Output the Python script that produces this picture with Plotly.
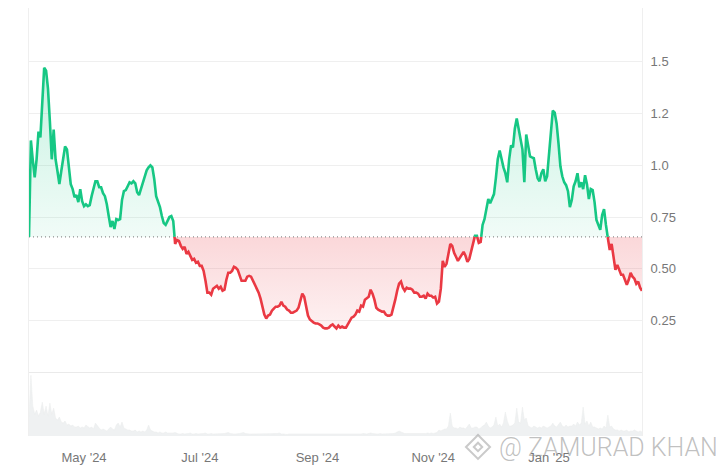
import numpy as np
import pandas as pd
import plotly.graph_objects as go

# ---------------- data ----------------
start_date = "2024-04-02"

prices = [
    0.654, 1.120, 1.024, 0.942, 1.029, 1.163, 1.135, 1.293, 1.471, 1.457,
    1.370, 1.212, 1.029, 1.173, 1.029, 0.971, 0.909, 0.971, 1.043, 1.091,
    1.077, 0.976, 0.909, 0.885, 0.846, 0.856, 0.822, 0.885, 0.827, 0.803,
    0.812, 0.803, 0.808, 0.851, 0.894, 0.923, 0.923, 0.894, 0.894, 0.865,
    0.851, 0.812, 0.755, 0.702, 0.731, 0.692, 0.740, 0.736, 0.740, 0.832,
    0.875, 0.880, 0.899, 0.918, 0.913, 0.923, 0.913, 0.870, 0.856, 0.889,
    0.909, 0.942, 0.976, 0.990, 1.000, 0.990, 0.933, 0.851, 0.827, 0.798,
    0.755, 0.721, 0.712, 0.736, 0.750, 0.755, 0.731, 0.620, 0.639, 0.635,
    0.611, 0.596, 0.606, 0.572, 0.582, 0.563, 0.543, 0.548, 0.529, 0.534,
    0.514, 0.514, 0.490, 0.442, 0.385, 0.385, 0.375, 0.404, 0.413, 0.418,
    0.404, 0.413, 0.394, 0.399, 0.447, 0.481, 0.481, 0.490, 0.510, 0.505,
    0.495, 0.471, 0.442, 0.442, 0.442, 0.462, 0.466, 0.462, 0.442, 0.423,
    0.409, 0.385, 0.356, 0.322, 0.279, 0.260, 0.274, 0.279, 0.298, 0.308,
    0.317, 0.317, 0.322, 0.341, 0.322, 0.317, 0.303, 0.298, 0.288, 0.288,
    0.293, 0.298, 0.312, 0.351, 0.380, 0.365, 0.312, 0.274, 0.255, 0.245,
    0.240, 0.236, 0.236, 0.231, 0.226, 0.216, 0.212, 0.212, 0.216, 0.226,
    0.231, 0.221, 0.212, 0.226, 0.216, 0.221, 0.216, 0.216, 0.231, 0.250,
    0.264, 0.269, 0.279, 0.298, 0.293, 0.322, 0.317, 0.351, 0.356, 0.365,
    0.399, 0.380, 0.351, 0.312, 0.303, 0.298, 0.293, 0.293, 0.279, 0.274,
    0.274, 0.279, 0.312, 0.351, 0.394, 0.428, 0.438, 0.409, 0.394, 0.409,
    0.404, 0.404, 0.399, 0.385, 0.385, 0.380, 0.365, 0.365, 0.370, 0.356,
    0.380, 0.370, 0.370, 0.361, 0.365, 0.332, 0.341, 0.404, 0.538, 0.510,
    0.524, 0.567, 0.620, 0.611, 0.577, 0.558, 0.538, 0.553, 0.567, 0.582,
    0.563, 0.534, 0.548, 0.587, 0.625, 0.659, 0.659, 0.625, 0.630, 0.712,
    0.740, 0.784, 0.837, 0.817, 0.837, 0.861, 0.938, 1.029, 1.072, 1.029,
    0.990, 0.962, 0.918, 1.029, 1.096, 1.087, 1.178, 1.226, 1.173, 1.111,
    1.077, 0.918, 1.149, 1.096, 1.043, 1.038, 1.034, 0.981, 0.938, 0.923,
    0.962, 0.981, 0.923, 0.947, 1.048, 1.159, 1.264, 1.255, 1.202, 1.106,
    0.995, 0.947, 0.918, 0.904, 0.875, 0.798, 0.832, 0.899, 0.923, 0.962,
    0.894, 0.918, 0.885, 0.952, 0.909, 0.837, 0.885, 0.880, 0.822, 0.736,
    0.707, 0.688, 0.760, 0.788, 0.712, 0.649, 0.591, 0.620, 0.548, 0.495,
    0.519, 0.490, 0.471, 0.471, 0.442, 0.423, 0.447, 0.480, 0.462, 0.452,
    0.428, 0.438, 0.409, 0.394,
]

volumes = [
    20, 61, 30, 22, 26, 20, 24, 34, 22, 30,
    20, 33, 22, 28, 18, 16, 19, 14, 13, 15,
    11, 12, 10, 11, 9, 9, 10, 8, 9, 8,
    11, 9, 8, 9, 7, 13, 10, 8, 6, 7,
    6, 5, 7, 9, 7, 6, 11, 13, 9, 14,
    8, 7, 6, 6, 5, 5, 6, 4, 5, 4,
    5, 4, 6, 11, 6, 5, 4, 4, 3, 4,
    3, 3, 4, 3, 3, 2.5, 3, 3.5, 2.5, 2,
    2, 2.5, 2, 2, 2.5, 3, 2, 2, 2.5, 2,
    2, 2, 2.5, 3, 2, 2, 2.5, 2, 2, 2,
    2.5, 2, 2, 2.5, 3, 3.5, 2.5, 2, 2, 2,
    2, 2.5, 3, 3.5, 2.5, 2, 2, 2, 2, 2.5,
    2, 2, 2, 2, 2.5, 2, 2, 2, 2, 2,
    2, 2.5, 3, 2, 2, 1.5, 1.5, 2, 2, 2,
    1.5, 1.5, 2, 1.5, 1.5, 2, 1.5, 1.5, 1.5, 1.5,
    1.5, 1.5, 1.5, 1.5, 1.5, 1.5, 2, 1.5, 1.5, 1.5,
    1.5, 1.5, 1.5, 1.5, 1.5, 2, 1.5, 1.5, 1.5, 2,
    2, 2, 1.5, 2, 2, 2, 2.5, 2, 2, 2.5,
    3, 2.5, 2, 2, 2, 2.5, 2, 2, 2, 2,
    2, 2, 2.5, 3, 4, 5, 4, 3, 2.5, 2.5,
    2.5, 2.5, 2, 2, 2.5, 2.5, 2.5, 2, 2.5, 2.5,
    3, 2.5, 3, 2.5, 3, 3.5, 6, 5, 6, 7,
    7, 10, 23, 10, 8, 8, 7, 9, 8, 8,
    7, 9, 12, 8, 8, 9, 9, 7, 8, 10,
    11, 14, 10, 8, 9, 11, 19, 10, 12, 9,
    13, 24, 15, 10, 10, 11, 13, 28, 14, 13,
    29, 16, 18, 10, 9, 8, 10, 9, 8, 9,
    8, 10, 9, 8, 9, 10, 13, 10, 9, 11,
    14, 10, 9, 11, 9, 10, 10, 12, 10, 14,
    11, 13, 29, 12, 15, 10, 14, 9, 9, 8,
    7, 8, 7, 10, 8, 21, 9, 10, 7, 6,
    6, 5, 6, 5, 5, 6, 4, 5, 5, 6,
    5, 4, 5, 4,
]

price_ticks = [0.25, 0.5, 0.75, 1.0, 1.25, 1.5]
price_tick_labels = ["0.25", "0.50", "0.75", "1.0", "1.2", "1.5"]
volume_axis_max = 64
price_axis_max = 1.76

# ---------------- derived series ----------------
dates = pd.date_range(start_date, periods=len(prices), freq="D")
base = prices[0]

ts = dates.values.astype("datetime64[ns]").astype("int64")
aug_t, aug_v = [], []
for i, p in enumerate(prices):
    if i > 0:
        a, b = prices[i - 1] - base, p - base
        if a * b < 0:
            f = a / (a - b)
            aug_t.append(int(ts[i - 1] + f * (ts[i] - ts[i - 1])))
            aug_v.append(base)
    aug_t.append(int(ts[i]))
    aug_v.append(p)
aug_dates = pd.to_datetime(aug_t)
aug_v = np.array(aug_v)

green = "#16c784"
red = "#ea3943"

up_line = [v if v >= base - 1e-9 else None for v in aug_v]
dn_line = [v if v <= base + 1e-9 else None for v in aug_v]
up_fill = np.maximum(aug_v, base)
dn_fill = np.minimum(aug_v, base)
base_arr = np.full(len(aug_v), base)

fig = go.Figure()

# volume
fig.add_trace(go.Scatter(
    x=dates, y=volumes, xaxis="x", yaxis="y2", mode="lines",
    line=dict(width=0.6, color="#eceeef"), fill="tozeroy",
    fillcolor="#eff1f2", hoverinfo="skip"))

# green fill
fig.add_trace(go.Scatter(x=aug_dates, y=base_arr, mode="lines",
                         line=dict(width=0), hoverinfo="skip"))
fig.add_trace(go.Scatter(
    x=aug_dates, y=up_fill, mode="lines", line=dict(width=0),
    fill="tonexty",
    fillgradient=dict(type="vertical",
                      colorscale=[[0, "rgba(22,199,132,0.06)"],
                                  [1, "rgba(22,199,132,0.24)"]]),
    hoverinfo="skip"))
# red fill
fig.add_trace(go.Scatter(x=aug_dates, y=base_arr, mode="lines",
                         line=dict(width=0), hoverinfo="skip"))
fig.add_trace(go.Scatter(
    x=aug_dates, y=dn_fill, mode="lines", line=dict(width=0),
    fill="tonexty",
    fillgradient=dict(type="vertical",
                      colorscale=[[0, "rgba(234,57,67,0.07)"],
                                  [1, "rgba(234,57,67,0.20)"]]),
    hoverinfo="skip"))

# dotted baseline
fig.add_trace(go.Scatter(x=[dates[0], dates[-1]], y=[base, base], mode="lines",
                         line=dict(color="#8f8f8f", width=1.2, dash="1px,3px"),
                         hoverinfo="skip"))

# price lines
fig.add_trace(go.Scatter(x=aug_dates, y=up_line, mode="lines",
                         line=dict(color=green, width=2.6), connectgaps=False))
fig.add_trace(go.Scatter(x=aug_dates, y=dn_line, mode="lines",
                         line=dict(color=red, width=2.6), connectgaps=False))

vol_frac = 64 / 430.0

fig.update_layout(
    width=720, height=473,
    margin=dict(l=29, r=78, t=8, b=35),
    paper_bgcolor="white", plot_bgcolor="white",
    showlegend=False,
    font=dict(family="Liberation Sans, Arial, sans-serif", size=13, color="#777777"),
    xaxis=dict(
        type="date",
        anchor="y2",
        range=[dates[0], dates[-1]],
        tickformat="%b '%y",
        dtick="M2",
        tick0="2024-05-01",
        showgrid=False, zeroline=False, showline=False,
        ticks="outside", ticklen=9, tickcolor="rgba(0,0,0,0)",
        tickfont=dict(size=13, color="#777777"),
    ),
    yaxis=dict(
        domain=[vol_frac, 1],
        range=[0, price_axis_max],
        side="right",
        anchor="x",
        tickvals=price_ticks, ticktext=price_tick_labels,
        showgrid=True, gridcolor="#efefef", gridwidth=1,
        zeroline=True, zerolinecolor="#eaeaea", zerolinewidth=1,
        showline=True, mirror=True, linecolor="#efefef", linewidth=1,
        ticks="outside", ticklen=5, tickcolor="rgba(0,0,0,0)",
        tickfont=dict(size=13, color="#777777"),
    ),
    yaxis2=dict(
        domain=[0, vol_frac],
        range=[0, volume_axis_max],
        anchor="x",
        showgrid=False, zeroline=False, showticklabels=False,
        showline=True, mirror=True, linecolor="#efefef", linewidth=1,
    ),
)

# watermark
fig.add_annotation(
    x=(497 - 29) / 613, y=(438 - 450) / 430, xref="paper", yref="paper",
    xanchor="left", yanchor="middle", showarrow=False,
    text="@ ZAMURAD KHAN",
    font=dict(family="Roboto, Liberation Sans, sans-serif", size=25,
              color="rgba(140,140,140,0.55)", weight=300),
)
cx, cy = (478 - 29) / 613, (438 - 449) / 430
dx, dy = 12 / 613, 12 / 430
fig.add_shape(type="path", xref="paper", yref="paper",
              path=f"M {cx-dx},{cy} L {cx},{cy+dy} L {cx+dx},{cy} L {cx},{cy-dy} Z",
              line=dict(color="rgba(150,150,150,0.5)", width=2))
ix, iy = dx * 0.35, dy * 0.35
fig.add_shape(type="path", xref="paper", yref="paper",
              path=f"M {cx-ix},{cy} L {cx},{cy+iy} L {cx+ix},{cy} L {cx},{cy-iy} Z",
              line=dict(color="rgba(150,150,150,0.5)", width=2))

fig.write_html("out.html", config={"displayModeBar": False},
               post_script="document.body.style.margin='0';")
